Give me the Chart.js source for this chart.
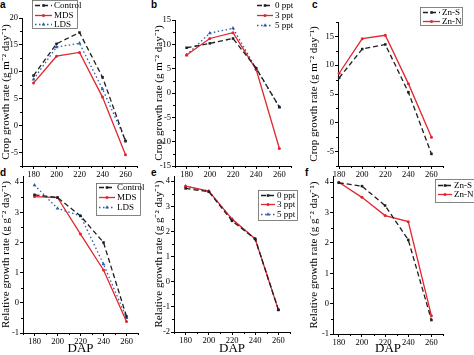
<!DOCTYPE html>
<html><head><meta charset="utf-8">
<script src="https://cdn.jsdelivr.net/npm/chart.js@4"></script>
<style>
html,body{margin:0;padding:0;background:#fff;width:474px;height:355px;overflow:hidden;position:relative;}
canvas{position:absolute;}
.lbl{position:absolute;font:bold 10px "Liberation Sans",Arial,sans-serif;color:#000;line-height:10px;}
</style></head><body>
<div class="lbl" style="left:0px;top:0px">a</div>
<div class="lbl" style="left:151px;top:0px">b</div>
<div class="lbl" style="left:312px;top:0px">c</div>
<div class="lbl" style="left:0px;top:168px">d</div>
<div class="lbl" style="left:151px;top:168px">e</div>
<div class="lbl" style="left:305px;top:168px">f</div>
<script>
// ---- data ----
const days = [180, 200, 220, 240, 260];
const xTicks = [180, 200, 220, 240, 260];

const cgrControl = [9.3, 15.2, 17.3, 9.0, -2.9];
const cgrMDS     = [7.9, 12.9, 13.6, 5.3, -5.4];
const cgrLDS     = [8.6, 14.6, 15.3, 6.8, -2.7];

const cgr0ppt = [9.3, 10.2, 11.2, 5.1, -2.9];
const cgr3ppt = [7.8, 11.2, 12.4, 4.8, -11.4];
const cgr5ppt = [7.8, 12.3, 13.3, 5.0, -2.9];

const cgrZnS = [7.8, 12.8, 13.6, 5.3, -5.4];
const cgrZnN = [8.6, 14.6, 15.2, 6.8, -2.5];

const rgrControl = [3.58, 3.49, 2.88, 2.0, -0.45];
const rgrMDS     = [3.52, 3.49, 2.28, 1.09, -0.62];
const rgrLDS     = [3.9, 3.13, 2.88, 1.28, -0.5];

const rgr0ppt = [3.71, 3.58, 2.42, 1.70, -1.12];
const rgr3ppt = [3.8, 3.6, 2.49, 1.70, -1.12];
const rgr5ppt = [3.8, 3.6, 2.49, 1.70, -1.12];

const rgrZnS = [3.98, 3.87, 3.23, 2.1, -0.54];
const rgrZnN = [4.0, 3.5, 2.9, 2.7, -0.4];

const yTicksA = [-5, 0, 5, 10, 15, 20];
const yTicksB = [-15, -10, -5, 0, 5, 10, 15];
const yTicksC = [-5, 0, 5, 10, 15];
const yTicksD = [-1, 0, 1, 2, 3, 4];
const yTicksE = [-2, -1, 0, 1, 2, 3, 4];
const yTicksF = [-1, 0, 1, 2, 3, 4];

const cgrTitle = 'Crop growth rate (g m\u207B\u00B2 day\u207B\u00B9)';
const rgrTitle = 'Relative growth rate (g g\u207B\u00B2 day\u207B\u00B9)';

// ---- styles ----
const SERIF = '"Liberation Serif","Times New Roman",serif';
const S_BLACK = {borderColor:'#1e1e1e', backgroundColor:'#1e1e1e', borderDash:[5,3], pointStyle:'rect', pointRadius:1.8};
const S_RED   = {borderColor:'#e2262d', backgroundColor:'#e2262d', borderDash:[], pointStyle:'circle', pointRadius:1.5};
const S_BLUE  = {borderColor:'#2b5dab', backgroundColor:'#2b5dab', borderDash:[1.5,2.5], pointStyle:'triangle', pointRadius:2.2};

function ds(label, vals, st){
  return Object.assign({label, data: days.map((d,i)=>({x:d, y:vals[i]})), borderWidth:1.3, pointBorderWidth:0, tension:0, clip:false, fill:false}, st);
}

const legendPlugin = {
  id:'miniLegend',
  afterDraw(chart, args, o){
    if(!o || !o.rows) return;
    const ctx = chart.ctx; ctx.save();
    const ox = o.ox, oy = o.oy;
    if(o.box){ ctx.strokeStyle='#666'; ctx.lineWidth=0.8; ctx.setLineDash([]); ctx.strokeRect(o.x-ox+0.5, o.y-oy+0.5, o.w, o.h); }
    chart.data.datasets.forEach((d,i)=>{
      const y = o.rows[i]-oy + 0.5;
      const x0 = o.x-ox+3, x1 = x0+o.len;
      ctx.strokeStyle = d.borderColor; ctx.lineWidth = 1.3;
      ctx.setLineDash(d.borderDash||[]);
      ctx.beginPath(); ctx.moveTo(x0,y); ctx.lineTo(x1,y); ctx.stroke();
      ctx.setLineDash([]);
      ctx.fillStyle = d.backgroundColor;
      Chart.helpers.drawPoint(ctx, {pointStyle:d.pointStyle, radius:d.pointRadius, borderWidth:0, rotation:0}, (x0+x1)/2, y);
      ctx.fillStyle = '#000'; ctx.font = '9px '+SERIF; ctx.textBaseline='middle'; ctx.textAlign='left';
      ctx.fillText(d.label, x1+2, y);
    });
    ctx.restore();
  }
};

const minorPlugin = {
  id:'minorTicks',
  afterDraw(chart){
    const ctx = chart.ctx; ctx.save();
    ctx.strokeStyle='#000'; ctx.lineWidth=1; ctx.setLineDash([]);
    const xs = chart.scales.x, ys = chart.scales.y;
    const xt = xs.ticks.map(t=>t.value);
    const xstep = xt[1]-xt[0];
    for(let v = xt[0]-xstep/2; v <= xs.max+1e-9; v += xstep){
      if(v < xs.min-1e-9) continue;
      const p = Math.round(xs.getPixelForValue(v))+0.5;
      ctx.beginPath(); ctx.moveTo(p, xs.top); ctx.lineTo(p, xs.top+2); ctx.stroke();
    }
    const yt = ys.ticks.map(t=>t.value);
    const ystep = yt[1]-yt[0];
    for(let v = yt[0]-ystep/2; v <= ys.max+1e-9; v += ystep){
      if(v < ys.min-1e-9) continue;
      const p = Math.round(ys.getPixelForValue(v))+0.5;
      ctx.beginPath(); ctx.moveTo(ys.right, p); ctx.lineTo(ys.right-2, p); ctx.stroke();
    }
    ctx.restore();
  }
};

function panel(p){
  const cv = document.createElement('canvas');
  cv.width = p.w; cv.height = p.h;
  cv.style.left = p.left+'px'; cv.style.top = p.top+'px';
  cv.style.width = p.w+'px'; cv.style.height = p.h+'px';
  document.body.appendChild(cv);
  p.legend.ox = p.left; p.legend.oy = p.top;
  new Chart(cv.getContext('2d'), {
    type:'line',
    data:{datasets:p.datasets},
    plugins:[legendPlugin, minorPlugin],
    options:{
      responsive:false, animation:false, devicePixelRatio:1,
      layout:{padding:{left:0, top:p.aTop-p.top, right:(p.left+p.w)-p.aRight, bottom:0}},
      plugins:{legend:{display:false}, tooltip:{enabled:false}, miniLegend:p.legend},
      scales:{
        x:{type:'linear', min:p.xMin, max:p.xMax,
           afterBuildTicks:s=>{s.ticks = xTicks.map(v=>({value:v}));},
           afterFit:s=>{s.height = (p.top+p.h)-p.aBottom;},
           grid:{drawOnChartArea:false, tickLength:3, color:'#000', lineWidth:1},
           border:{color:'#000', width:1},
           ticks:{font:{family:SERIF, size:8.5}, color:'#000', padding:1, maxRotation:0, autoSkip:false},
           title: p.xTitle ? {display:true, text:'DAP', font:{family:SERIF, size:13, lineHeight:1}, color:'#000', padding:{top:0,bottom:0}} : {display:false}
        },
        y:{type:'linear', min:p.yMin, max:p.yMax,
           afterBuildTicks:s=>{s.ticks = p.yTicks.map(v=>({value:v}));},
           afterFit:s=>{s.width = p.aLeft-p.left;},
           grid:{drawOnChartArea:false, tickLength:3, color:'#000', lineWidth:1},
           border:{color:'#000', width:1},
           ticks:{font:{family:SERIF, size:8.5}, color:'#000', padding:1},
           title:{display:true, text:p.yTitle, font:{family:SERIF, size:11, lineHeight:1}, color:'#000', padding:{top:p.tpad, bottom:0}}
        }
      }
    }
  });
}

panel({left:0, top:0, w:150, h:180, aLeft:22, aRight:137, aTop:18, aBottom:166, xMin:170, xMax:270, yMin:-7.5, yMax:20, yTicks:yTicksA, yTitle:cgrTitle, tpad:0.5,
  datasets:[ds('Control', cgrControl, S_BLACK), ds('MDS', cgrMDS, S_RED), ds('LDS', cgrLDS, S_BLUE)],
  legend:{x:32, y:0, w:45, h:28, box:true, len:17, rows:[5,15,24]}});
panel({left:150, top:0, w:155, h:180, aLeft:175, aRight:291, aTop:20, aBottom:166, xMin:170, xMax:270, yMin:-15, yMax:15, yTicks:yTicksB, yTitle:cgrTitle, tpad:4,
  datasets:[ds('0 ppt', cgr0ppt, S_BLACK), ds('3 ppt', cgr3ppt, S_RED), ds('5 ppt', cgr5ppt, S_BLUE)],
  legend:{x:254, y:0, w:40, h:28, box:false, len:16, rows:[5,15,25]}});
panel({left:305, top:0, w:169, h:180, aLeft:338, aRight:443, aTop:22, aBottom:166, xMin:179, xMax:270, yMin:-7.5, yMax:17.5, yTicks:yTicksC, yTitle:cgrTitle, tpad:4,
  datasets:[ds('Zn-S', cgrZnS, S_BLACK), ds('Zn-N', cgrZnN, S_RED)],
  legend:{x:420, y:7, w:42, h:18, box:true, len:17, rows:[12,21]}});
panel({left:0, top:170, w:150, h:185, aLeft:23, aRight:138, aTop:176, aBottom:333, xMin:170, xMax:270, yMin:-1, yMax:4.2, yTicks:yTicksD, yTitle:rgrTitle, tpad:0.5, xTitle:true,
  datasets:[ds('Control', rgrControl, S_BLACK), ds('MDS', rgrMDS, S_RED), ds('LDS', rgrLDS, S_BLUE)],
  legend:{x:96, y:183, w:44, h:32, box:true, len:16, rows:[187,197,207]}});
panel({left:150, top:170, w:155, h:185, aLeft:174, aRight:290, aTop:176, aBottom:332, xMin:170, xMax:270, yMin:-2, yMax:4.2, yTicks:yTicksE, yTitle:rgrTitle, tpad:4, xTitle:true,
  datasets:[ds('0 ppt', rgr0ppt, S_BLACK), ds('3 ppt', rgr3ppt, S_RED), ds('5 ppt', rgr5ppt, S_BLUE)],
  legend:{x:258, y:190, w:39, h:30, box:true, len:14, rows:[195,204,214]}});
panel({left:305, top:170, w:169, h:185, aLeft:333, aRight:443, aTop:176, aBottom:334, xMin:175, xMax:270, yMin:-1, yMax:4.2, yTicks:yTicksF, yTitle:rgrTitle, tpad:4, xTitle:true,
  datasets:[ds('Zn-S', rgrZnS, S_BLACK), ds('Zn-N', rgrZnN, S_RED)],
  legend:{x:435, y:179, w:45, h:23, box:true, len:14, rows:[185,194]}});
</script>
</body></html>
